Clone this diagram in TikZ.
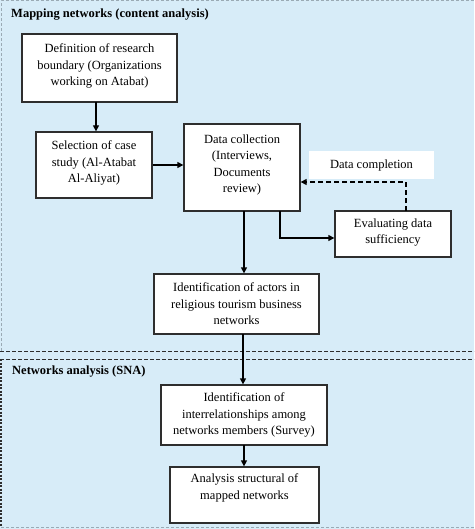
\documentclass[tikz,border=0pt]{standalone}
\usepackage{fontspec}
\setmainfont{Liberation Serif}
\usetikzlibrary{arrows.meta}
\definecolor{bgblue}{HTML}{D7ECF8}
\definecolor{edgegrey}{HTML}{9AAAB4}
\definecolor{darkline}{HTML}{2E2E2E}
\newcommand{\mybx}[4]{\parbox[c][#2][#3]{#1}{\centering #4}}
\begin{document}
\begin{tikzpicture}[x=1pt,y=-1pt,
  every node/.style={font=\fontsize{12.5}{16.6}\selectfont},
  boxnode/.style={draw=darkline,line width=1.3pt,fill=white,inner sep=0pt},
  arr/.style={-{Triangle[length=6pt,width=6pt]},line width=1.3pt,draw=black},
  dasharr/.style={arr,dash pattern=on 5pt off 3pt},
  title/.style={font=\fontsize{12.5}{14}\selectfont\bfseries,anchor=west,inner sep=0pt}]
\useasboundingbox (0,0) rectangle (474,529);
% regions
\fill[bgblue] (0,0) rectangle (474,529);
\draw[edgegrey,line width=1pt,dash pattern=on 3pt off 2pt] (1,351) -- (1,1) -- (474,1);
\draw[darkline,line width=1pt,dash pattern=on 4pt off 2pt] (0,351) -- (474,351);
\draw[darkline,line width=1pt,dash pattern=on 4pt off 2pt] (0,359) -- (474,359);
\draw[darkline,line width=1.5pt,dash pattern=on 2pt off 1.5pt] (1,359) -- (1,527);
\draw[edgegrey,line width=1pt,dash pattern=on 3pt off 2pt] (1,527) -- (474,527);
\node[title] (t1) at (11,15) {Mapping networks (content analysis)};
\node[title] (t2) at (12,372) {Networks analysis (SNA)};
% boxes
\node[boxnode] (b1) at (99.5,68) {\mybx{155pt}{68pt}{c}{Definition of research\\boundary (Organizations\\working on Atabat)\\[4pt]}};
\node[boxnode] (b2) at (94,165) {\mybx{116pt}{66pt}{c}{Selection of case\\study (Al-Atabat\\Al-Aliyat)\\[4pt]}};
\node[boxnode] (b3) at (242,167.5) {\mybx{116pt}{87pt}{c}{Data collection\\(Interviews,\\Documents\\review)\\[5pt]}};
\node[fill=white,inner sep=0pt] (dc) at (371.5,165) {\mybx{125pt}{28pt}{c}{Data completion}};
\node[boxnode] (b4) at (393,234) {\mybx{116pt}{46pt}{c}{Evaluating data\\sufficiency\\[3pt]}};
\node[boxnode] (b5) at (236.5,304) {\mybx{165pt}{60pt}{c}{Identification of actors in\\religious tourism business\\networks}};
\node[boxnode] (b6) at (244,415) {\mybx{166pt}{60pt}{c}{Identification of\\interrelationships among\\networks members (Survey)}};
\node[boxnode] (b7) at (244.5,495) {\mybx{149pt}{56pt}{c}{Analysis structural of\\mapped networks\\[14pt]}};
% connectors
\coordinate (c1) at (96,102);
\draw[arr] (c1) -- (c1 |- b2.north);
\draw[arr] (b2.east) -- (b2.east -| b3.west);
\coordinate (c3) at (244,211);
\draw[arr] (c3) -- (c3 |- b5.north);
\coordinate (c4) at (280,211);
\coordinate (c4b) at (280,238);
\draw[arr] (c4) -- (c4b) -- (c4b -| b4.west);
\coordinate (c5) at (406,211);
\coordinate (c5b) at (406,182);
\draw[dasharr] (c5) -- (c5b) -- (c5b -| b3.east);
\coordinate (c6) at (243,334);
\draw[arr] (c6) -- (c6 |- b6.north);
\coordinate (c7) at (244,445);
\draw[arr] (c7) -- (c7 |- b7.north);
\end{tikzpicture}
\end{document}
